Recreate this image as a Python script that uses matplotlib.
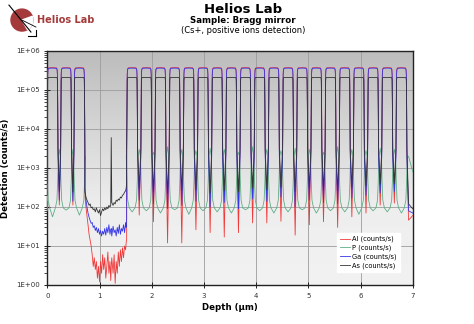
import numpy as np
import matplotlib
matplotlib.use("Agg")
import matplotlib.pyplot as plt
from matplotlib.patches import Circle, Wedge

# --- data (depth in um, counts/s) ---
# peak centres of the two multilayer stacks
peaks_g1 = [0.10, 0.36, 0.615]
peaks_g2 = [1.625, 1.897, 2.168, 2.44, 2.711, 2.983, 3.254, 3.526, 3.797, 4.069,
            4.34, 4.612, 4.883, 5.155, 5.426, 5.698, 5.969, 6.241, 6.512, 6.784]
# valley positions after each peak (last one of g1 runs into the gap)
valleys_g1 = [0.23, 0.49]
valleys_g2 = [1.761, 2.033, 2.304, 2.576, 2.847, 3.119, 3.390, 3.662, 3.933, 4.205,
              4.476, 4.748, 5.019, 5.291, 5.562, 5.834, 6.105, 6.377, 6.648, 6.92]

al_valley_g1 = [112, 112]
ga_valley_g1 = [150, 140]
as_valley_g1 = [250, 240]
p_top_g1 = [3000, 3000]
p_floor_g1 = [56, 83, 62]

al_valley_g2 = [62, 42, 12, 12, 26, 22, 17, 22, 39, 39, 43, 19, 35, 42, 30, 56, 70, 112, 126, 46]
ga_valley_g2 = [150, 120, 90, 110, 140, 100, 130, 90, 160, 140, 180, 100, 150, 130, 120, 170, 200, 230, 250, 80]
as_valley_g2 = [300, 250, 220, 260, 280, 230, 260, 240, 300, 280, 320, 250, 300, 270, 260, 320, 350, 380, 400, 120]
p_top_g2 = [3000, 2500, 3500, 3000, 2800, 3200, 3000, 2500, 3500, 3000,
            2800, 3200, 3000, 2500, 3500, 3000, 2800, 3200, 3000, 2000]
p_floor_g2 = [75, 80, 70, 85, 65, 80, 75, 70, 85, 80, 70, 75, 85, 70, 80, 75, 65, 80, 75, 70]

# shape of one peak around its centre
edge_dx = [-0.105, -0.099, -0.094, -0.088, -0.075, 0.0, 0.075, 0.088, 0.094, 0.099, 0.105]
al_edge = [3e3, 5e4, 2.5e5, 3.4e5, 3.7e5, 3.75e5, 3.7e5, 3.4e5, 2.5e5, 5e4, 3e3]
ga_edge = [2e3, 4e4, 2.4e5, 3.3e5, 3.6e5, 3.65e5, 3.6e5, 3.3e5, 2.4e5, 4e4, 2e3]
as_edge = [3e3, 4e4, 1.8e5, 2.05e5, 2.1e5, 2.1e5, 2.1e5, 2.05e5, 1.8e5, 4e4, 3e3]
p_dx = [-0.112, -0.1, -0.085, -0.055, 0.0, 0.055, 0.085, 0.1, 0.112]
p_edge = [2e3, 500, 150, 95, 0, 95, 150, 500, 2e3]   # 0 -> replaced by floor value

# gap between the two stacks
gap_depth = [0.72, 0.74, 0.76, 0.78, 0.80, 0.82, 0.84, 0.86, 0.88, 0.90, 0.92, 0.94, 0.96,
             0.98, 1.00, 1.02, 1.04, 1.06, 1.08, 1.10, 1.12, 1.14, 1.16, 1.18, 1.20, 1.215,
             1.225, 1.235, 1.26, 1.28, 1.30, 1.32, 1.34, 1.36, 1.38, 1.40, 1.42, 1.44,
             1.46, 1.48, 1.50, 1.51, 1.52]
gap_as = [250, 180, 150, 130, 110, 120, 95, 100, 85, 90, 75, 95, 80, 70, 85, 60, 75, 90, 80,
          95, 85, 100, 90, 110, 100, 110, 6000, 130, 110, 130, 120, 150, 140, 160, 150, 180,
          170, 200, 210, 240, 260, 300, 400]
gap_ga = [300, 150, 100, 70, 55, 45, 38, 40, 30, 33, 25, 30, 22, 28, 20, 25, 18, 24, 20, 28,
          19, 30, 22, 35, 20, 26, 28, 18, 32, 22, 26, 18, 30, 21, 35, 20, 28, 24, 35, 22,
          40, 30, 50]
gap_al = [200, 100, 60, 35, 20, 14, 10, 6, 3, 5, 2.5, 4, 1.5, 3, 1.2, 4, 2, 6, 2.5, 5, 1.5,
          3, 7, 2, 4, 1.3, 3, 5, 2, 6, 1.1, 4, 2, 7, 3, 8, 4, 9, 5, 10, 8, 12, 15]

start_vals = {"al": 300, "ga": 200, "as": 400, "p": 80}
end_vals = {"al": 60, "ga": 70, "as": 90, "p": 800}


def build(peaks, valleys, edge, valley_vals):
    xs, ys = [], []
    for i, c in enumerate(peaks):
        for dx, v in zip(edge_dx, edge):
            xs.append(c + dx)
            ys.append(v)
        if i < len(valleys):
            xs.append(valleys[i])
            ys.append(valley_vals[i])
    return xs, ys


def build_p(peaks, valleys, floors, tops):
    xs, ys = [], []
    for i, c in enumerate(peaks):
        for dx, v in zip(p_dx, p_edge):
            xs.append(c + dx)
            ys.append(floors[i] if v == 0 else v)
        if i < len(valleys):
            xs.append(valleys[i])
            ys.append(tops[i])
    return xs, ys


series = {}
for key, edge, v1, v2, gap in [("al", al_edge, al_valley_g1, al_valley_g2, gap_al),
                               ("ga", ga_edge, ga_valley_g1, ga_valley_g2, gap_ga),
                               ("as", as_edge, as_valley_g1, as_valley_g2, gap_as)]:
    x1, y1 = build(peaks_g1, valleys_g1, edge, v1)
    x2, y2 = build(peaks_g2, valleys_g2, edge, v2)
    xs = [0.0] + x1 + gap_depth + x2 + [7.0]
    ys = [start_vals[key]] + y1 + gap + y2 + [end_vals[key]]
    series[key] = (xs, ys)

x1, y1 = build_p(peaks_g1, valleys_g1, p_floor_g1, p_top_g1)
x2, y2 = build_p(peaks_g2, valleys_g2, p_floor_g2, p_top_g2)
series["p"] = ([0.0] + x1[1:] + [1.0] + x2 + [7.0],
               [start_vals["p"]] + y1[1:] + [np.nan] + y2 + [end_vals["p"]])

# --- figure ---
fig = plt.figure(figsize=(4.74, 3.24), dpi=100)
ax = fig.add_axes([0.0998, 0.1204, 0.7709, 0.7222])

# grey gradient background of the plot area (dark on top)
grad = np.linspace(0, 1, 256).reshape(-1, 1)
ax.imshow(grad, cmap=matplotlib.colors.LinearSegmentedColormap.from_list(
    "bg", ["#bcbcbc", "#d6d6d6", "#eeeeee", "#f2f2f2"]), aspect="auto",
    extent=[0, 1, 0, 1], origin="upper", transform=ax.transAxes, zorder=0)

ax.plot(*series["al"], color="#f03a3a", lw=0.6, label="Al (counts/s)", zorder=3)
ax.plot(*series["p"], color="#5eae86", lw=0.6, label="P (counts/s)", zorder=3)
ax.plot(*series["ga"], color="#3535e8", lw=0.6, label="Ga (counts/s)", zorder=3)
ax.plot(*series["as"], color="#333333", lw=0.6, label="As (counts/s)", zorder=3)

ax.set_yscale("log")
ax.set_xlim(0, 7)
ax.set_ylim(1, 1e6)
ax.set_xticks(range(8))
ax.set_yticks([1, 10, 100, 1e3, 1e4, 1e5, 1e6])
ax.set_yticklabels(["1E+00", "1E+01", "1E+02", "1E+03", "1E+04", "1E+05", "1E+06"])
ax.yaxis.set_minor_locator(matplotlib.ticker.LogLocator(base=10, subs=np.arange(2, 10)))
ax.yaxis.set_minor_formatter(matplotlib.ticker.NullFormatter())
ax.tick_params(axis="both", which="major", labelsize=5, colors="#222222",
               direction="inout", length=4, width=0.7, labelcolor="#333333")
ax.tick_params(axis="y", which="minor", direction="out", length=2, width=0.5)
ax.grid(True, which="major", color="#9c9c9c", lw=0.6)
ax.set_axisbelow(True)
for s in ax.spines.values():
    s.set_linewidth(1.0)
    s.set_color("#222222")

ax.set_xlabel("Depth (µm)", fontsize=6.2, fontweight="bold", labelpad=3)
ax.set_ylabel("Detection (counts/s)", fontsize=6.2, fontweight="bold", labelpad=4)

leg = ax.legend(loc="lower right", bbox_to_anchor=(0.975, 0.04), fontsize=4.8,
                handlelength=1.4, handletextpad=0.4, labelspacing=0.35, borderpad=0.5,
                fancybox=False, framealpha=1.0, edgecolor="white")
leg.set_zorder(5)

fig.text(0.513, 0.972, "Helios Lab", ha="center", va="center", fontsize=9.5, fontweight="bold")
fig.text(0.513, 0.938, "Sample: Bragg mirror", ha="center", va="center", fontsize=6.2,
         fontweight="bold")
fig.text(0.513, 0.907, "(Cs+, positive ions detection)", ha="center", va="center", fontsize=6)

# logo
lax = fig.add_axes([0.0, 0.87, 0.2, 0.13])
lax.set_xlim(0, 95)
lax.set_ylim(0, 42)
lax.set_aspect("equal")
lax.axis("off")
lax.add_patch(Circle((22, 22), 11, color="#a53a3a"))
lax.add_patch(Wedge((22, 22), 11, -60, 20, color="white"))
lax.plot([9, 31], [37, 10], color="black", lw=0.8)
lax.plot([22, 36], [22, 15], color="black", lw=0.6)
lax.plot([28, 36], [6, 6], color="black", lw=0.8)
lax.plot([36, 36], [6, 12], color="black", lw=0.8)
lax.text(37, 22, "Helios Lab", fontsize=7, color="#a53a3a", va="center", fontweight="bold")

fig.savefig("out.png", dpi=100)
